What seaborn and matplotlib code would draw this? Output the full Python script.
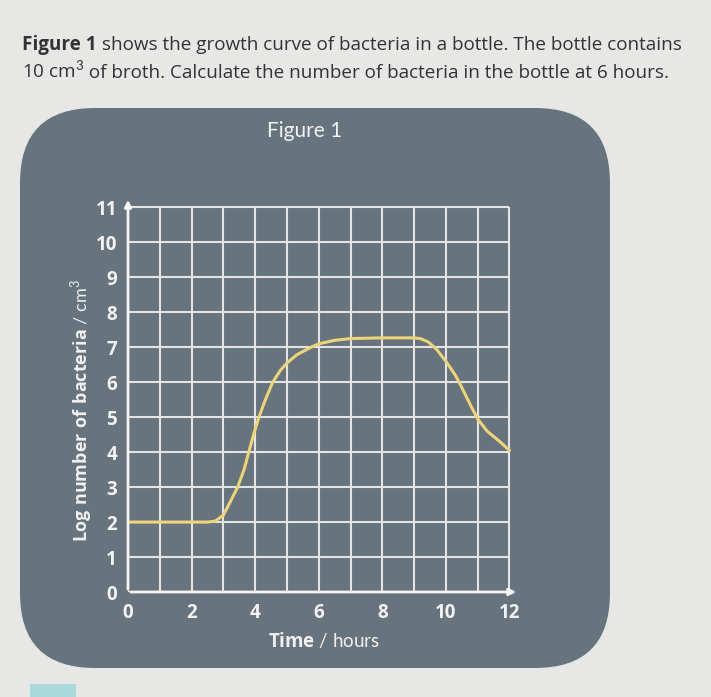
import numpy as np
import pandas as pd
import seaborn as sns
from matplotlib import pyplot as plt
from matplotlib.patches import FancyBboxPatch, Rectangle

# Values
hours = [0, 1, 2, 2.5, 2.75, 3.0, 3.2, 3.45, 3.65, 3.8, 3.95, 4.1, 4.3, 4.55, 4.8, 5.0, 5.3, 5.5,
         5.8, 6.0, 6.5, 7.0, 8.0, 9.0, 9.2, 9.45, 9.7, 10.0, 10.3, 10.5, 10.8, 11.0, 11.3, 11.7, 12.0]
log_count = [2.0, 2.0, 2.0, 2.0, 2.03, 2.2, 2.55, 3.0, 3.5, 4.0, 4.5, 4.95, 5.45, 6.0, 6.35, 6.55, 6.78, 6.88,
             7.02, 7.1, 7.2, 7.25, 7.27, 7.27, 7.25, 7.15, 6.95, 6.6, 6.2, 5.85, 5.3, 4.95, 4.6, 4.3, 4.05]
x_ticks = [0, 2, 4, 6, 8, 10, 12]
y_ticks = list(range(12))

question_1 = " shows the growth curve of bacteria in a bottle. The bottle contains"
question_2 = " of broth. Calculate the number of bacteria in the bottle at 6 hours."

df = pd.DataFrame({'hours': hours, 'log_count': log_count})

sns.set_theme(style='white')
plt.rcParams['font.family'] = ['Lato', 'DejaVu Sans']
plt.rcParams['mathtext.fontset'] = 'custom'
plt.rcParams['mathtext.rm'] = 'Lato'
plt.rcParams['mathtext.bf'] = 'Open Sans:bold'

W, H = 711, 697
fig = plt.figure(figsize=(W / 100, H / 100), dpi=100)
fig.patch.set_facecolor('#e7e7e5')

# background layer in pixel coordinates
bg = fig.add_axes([0, 0, 1, 1])
bg.set_xlim(0, W)
bg.set_ylim(H, 0)
bg.axis('off')
bg.add_patch(FancyBboxPatch((20, 108), 590, 560, boxstyle='round,pad=0,rounding_size=75',
                            facecolor='#67737d', edgecolor='none'))
bg.add_patch(Rectangle((30, 684), 46, 13, facecolor='#a9d9dc', edgecolor='none'))

txt = dict(fontsize=13.6, color='#333333', family=['Open Sans', 'DejaVu Sans'])
t1 = bg.text(22, 50, 'Figure 1', fontweight='bold', **txt)
fig.canvas.draw()
bb = t1.get_window_extent()
bg.text(22 + bb.width, 50, question_1, **txt)
t2 = bg.text(22, 78, '10 cm$^3$', **txt)
fig.canvas.draw()
bb2 = t2.get_window_extent()
bg.text(22 + bb2.width, 78, question_2, **txt)
bg.text(305, 131, 'Figure 1', fontsize=15, color='#f2f2f2', ha='center', va='center')

# chart
ax = fig.add_axes([128 / W, 1 - 592 / H, (519 - 128) / W, (592 - 197) / H])
ax.set_facecolor('none')
ax.vlines(range(13), 0, 11, color='#e4e4e4', lw=1.5, zorder=1)
ax.hlines(range(12), 0, 12, color='#e4e4e4', lw=1.5, zorder=1)
sns.lineplot(data=df, x='hours', y='log_count', ax=ax, color='#ecd47a', lw=2.2, zorder=3,
             solid_joinstyle='round')
ax.annotate('', xy=(12.3, 0), xytext=(0, 0),
            arrowprops=dict(arrowstyle='-|>', color='#f4f4f4', lw=2, mutation_scale=10), zorder=4)
ax.annotate('', xy=(0, 11.3), xytext=(0, 0),
            arrowprops=dict(arrowstyle='-|>', color='#f4f4f4', lw=2, mutation_scale=10), zorder=4)
ax.set_xlim(0, 12.3)
ax.set_ylim(0, 11.3)
for s in ax.spines.values():
    s.set_visible(False)
ax.set_xticks(x_ticks, labels=[str(v) for v in x_ticks])
ax.set_yticks(y_ticks, labels=[str(v) for v in y_ticks])
ax.tick_params(length=0, labelsize=13.5, colors='#f2f2f2', pad=8,
               labelfontfamily='Open Sans')
for lab in ax.get_xticklabels() + ax.get_yticklabels():
    lab.set_fontweight('bold')
ax.set_xlabel(r'$\mathbf{Time}$ / hours', fontsize=13.5, color='#f0f0f0')
ax.set_ylabel(r'$\mathbf{Log\ number\ of\ bacteria}$ / cm$^3$', fontsize=13, color='#f0f0f0')
ax.xaxis.set_label_coords(0.5, -0.095)
ax.yaxis.set_label_coords(-0.088, 0.46)

fig.savefig('out.png', dpi=100, facecolor=fig.get_facecolor())
